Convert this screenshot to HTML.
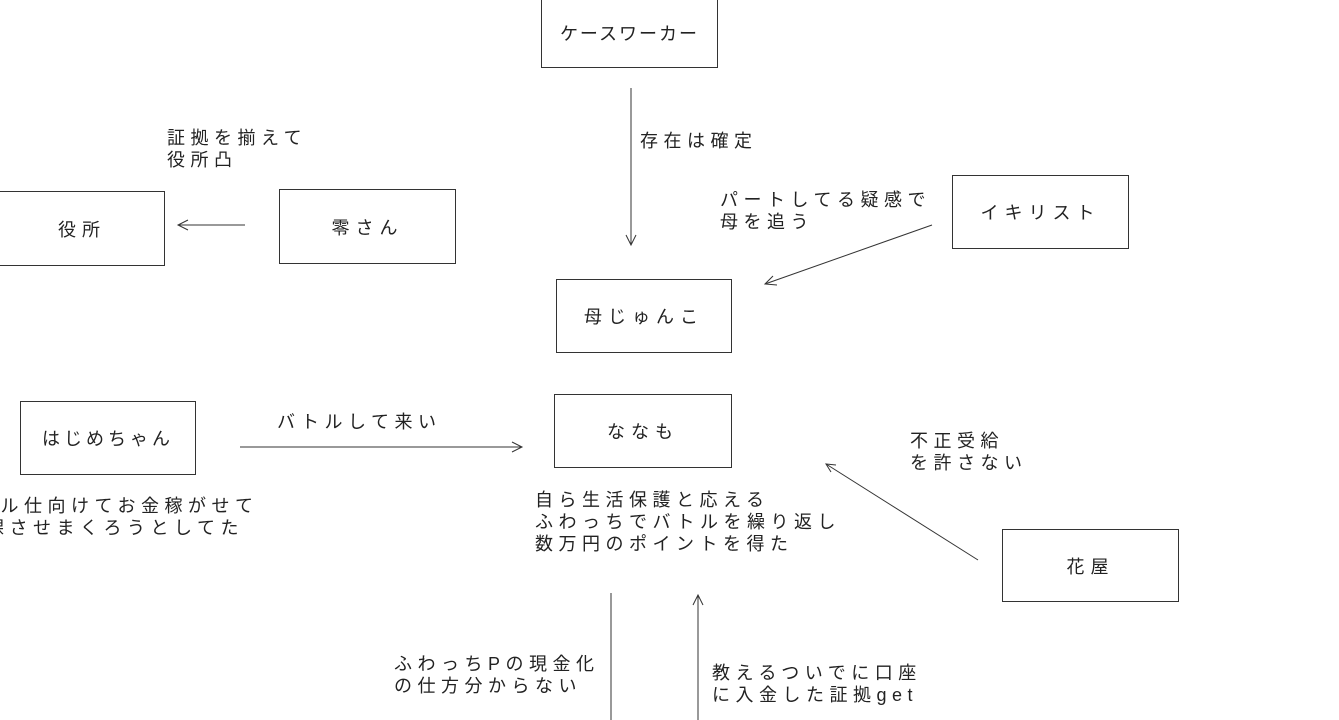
<!DOCTYPE html>
<html><head><meta charset="utf-8"><style>
body{margin:0;width:1339px;height:720px;background:#fff;position:relative;overflow:hidden;font-family:"Liberation Sans","Noto Sans CJK JP",sans-serif;color:#222}
.b{position:absolute;border:1px solid #333;background:#fff;box-sizing:border-box;display:flex;align-items:center;justify-content:center;font-size:18px;letter-spacing:6px}
.t{position:absolute;font-size:18px;letter-spacing:5.5px;line-height:22px;white-space:nowrap}
svg{position:absolute;left:0;top:0}
</style></head><body>
<svg width="1339" height="720" stroke="#333" stroke-width="1" fill="none">
<line x1="631" y1="88" x2="631" y2="245"/><polyline points="626,235 631,245 636,235"/>
<line x1="245" y1="225" x2="178" y2="225"/><polyline points="188,220 178,225 188,230"/>
<line x1="932" y1="225" x2="765" y2="284"/><polyline points="773,276 765,284 777,285"/>
<line x1="240" y1="447" x2="522" y2="447"/><polyline points="512,442 522,447 512,452"/>
<line x1="978" y1="560" x2="826" y2="464"/><polyline points="831,472 826,464 836,465"/>
<line x1="611" y1="593" x2="611" y2="720"/>
<line x1="698" y1="720" x2="698" y2="595"/><polyline points="693,605 698,595 703,605"/>
</svg>
<div class="b" style="left:541px;top:-2px;width:177px;height:70px;letter-spacing:2px">ケースワーカー</div>
<div class="b" style="left:-1px;top:191px;width:166px;height:75px">役所</div>
<div class="b" style="left:279px;top:189px;width:177px;height:75px">零さん</div>
<div class="b" style="left:952px;top:175px;width:177px;height:74px">イキリスト</div>
<div class="b" style="left:556px;top:279px;width:176px;height:74px">母じゅんこ</div>
<div class="b" style="left:554px;top:394px;width:178px;height:74px">ななも</div>
<div class="b" style="left:20px;top:401px;width:176px;height:74px;letter-spacing:4px">はじめちゃん</div>
<div class="b" style="left:1002px;top:529px;width:177px;height:73px">花屋</div>
<div class="t" style="left:167px;top:127px">証拠を揃えて<br>役所凸</div>
<div class="t" style="left:640px;top:130px">存在は確定</div>
<div class="t" style="left:720px;top:189px">パートしてる疑感で<br>母を追う</div>
<div class="t" style="left:277px;top:411px">バトルして来い</div>
<div class="t" style="left:910px;top:430px">不正受給<br>を許さない</div>
<div class="t" style="left:-47px;top:495px">バトル仕向けてお金稼がせて<br><span style="margin-left:33px">課させまくろうとしてた</span></div>
<div class="t" style="left:535px;top:489px">自ら生活保護と応える<br>ふわっちでバトルを繰り返し<br>数万円のポイントを得た</div>
<div class="t" style="left:394px;top:653px">ふわっちPの現金化<br>の仕方分からない</div>
<div class="t" style="left:712px;top:662px">教えるついでに口座<br>に入金した証拠get</div>
</body></html>
